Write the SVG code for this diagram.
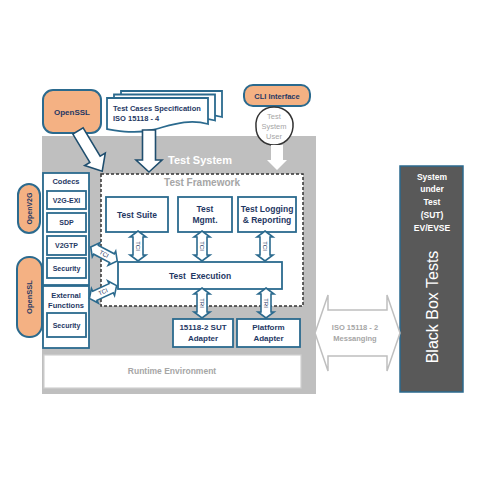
<svg xmlns="http://www.w3.org/2000/svg" width="480" height="480" viewBox="0 0 480 480">
<style>
.box{fill:#fff;stroke:#2B6A8E;stroke-width:1.8}
.org{fill:#F4B183;stroke:#2B6A8E;stroke-width:2}
.t{font-family:"Liberation Sans",Arial,sans-serif;font-weight:bold;fill:#1F3864;text-anchor:middle}
.ts{font-family:"Liberation Sans",Arial,sans-serif;font-weight:bold;fill:#1F3864;text-anchor:start}
.g{font-family:"Liberation Sans",Arial,sans-serif;font-weight:bold;fill:#A6A6A6;text-anchor:middle}
.gn{font-family:"Liberation Sans",Arial,sans-serif;font-weight:normal;fill:#A6A6A6;text-anchor:middle}
.w{font-family:"Liberation Sans",Arial,sans-serif;font-weight:bold;fill:#fff;text-anchor:middle}
.dbl{fill:#fff;stroke:#2B6A8E;stroke-width:1.6}
.lbl{font-family:"Liberation Sans",Arial,sans-serif;font-size:6px;fill:#1F3864;text-anchor:middle}
.bar{fill:#fff;stroke:#1F4E6E;stroke-width:1.6}
</style>
<defs>
<path id="dbl" d="M-15,0 L-9,-8 L-9,-5 L9,-5 L9,-8 L15,0 L9,8 L9,5 L-9,5 L-9,8 Z"/>
<path id="doc" d="M0,0 H101 V26 C80,20 62,28 45,32 C28,36 12,33 0,31 Z"/>
</defs>
<rect width="480" height="480" fill="#fff"/>

<g id="test-system">
<rect x="42" y="136" width="274" height="258" fill="#BFBFBF"/>
<text class="w" x="200" y="164" font-size="11">Test System</text>
</g>

<g id="test-framework">
<rect x="101" y="174" width="202" height="132" fill="#fff" stroke="#333" stroke-width="1.5" stroke-dasharray="3,2"/>
<text class="g" x="202" y="186" font-size="10">Test Framework</text>
</g>

<g id="openssl-top">
<rect class="org" x="43" y="90" width="58" height="43" rx="10"/>
<text class="t" x="72" y="115" font-size="8">OpenSSL</text>
</g>

<g id="test-cases">
<use href="#doc" x="121" y="91" class="box"/>
<use href="#doc" x="114" y="94.5" class="box"/>
<use href="#doc" x="107" y="98" class="box"/>
<text class="ts" x="113" y="111" font-size="7.5">Test Cases Specification</text>
<text class="ts" x="113" y="121" font-size="7.5">ISO 15118 - 4</text>
</g>

<g id="cli-interface">
<rect class="org" x="244" y="85" width="66" height="21" rx="9"/>
<text class="t" x="277" y="98.5" font-size="7.5">CLI Interface</text>
</g>

<g id="test-system-user">
<path d="M274,107 C286,107 294,116 293,127 C292,138 284,145 274,145 C264,145 256,138 256,127 C255,116 262,107 274,107 Z" fill="#fff" stroke="#333" stroke-width="1.5"/>
<text class="gn" x="274" y="119" font-size="7.5">Test</text>
<text class="gn" x="274" y="129" font-size="7.5">System</text>
<text class="gn" x="274" y="139" font-size="7.5">User</text>
</g>

<g id="codecs">
<rect class="box" x="43" y="173" width="46" height="112"/>
<text class="t" x="66" y="184" font-size="7.5">Codecs</text>
<rect class="box" x="47" y="191" width="39" height="18"/>
<text class="t" x="66.5" y="203" font-size="7">V2G-EXI</text>
<rect class="box" x="47" y="213" width="39" height="19"/>
<text class="t" x="66.5" y="225" font-size="7">SDP</text>
<rect class="box" x="47" y="236" width="39" height="19"/>
<text class="t" x="66.5" y="248" font-size="7">V2GTP</text>
<rect class="box" x="47" y="258" width="39" height="20"/>
<text class="t" x="66.5" y="271" font-size="7">Security</text>
</g>

<g id="external-functions">
<rect class="box" x="43" y="286" width="46" height="62"/>
<text class="t" x="66" y="298" font-size="7.5">External</text>
<text class="t" x="66" y="308" font-size="7.5">Functions</text>
<rect class="box" x="47" y="313" width="39" height="24"/>
<text class="t" x="66.5" y="328" font-size="7">Security</text>
</g>

<g id="openv2g">
<rect class="org" x="18" y="184" width="22" height="49" rx="11"/>
<text class="t" transform="translate(31.5,208.5) rotate(-90)" font-size="7">OpenV2G</text>
</g>

<g id="openssl-left">
<rect class="org" x="17" y="257" width="25" height="80" rx="12"/>
<text class="t" transform="translate(32,297) rotate(-90)" font-size="7.5">OpenSSL</text>
</g>

<g id="test-suite">
<rect class="box" x="106" y="197" width="62" height="35"/>
<text class="t" x="137" y="218" font-size="8.5">Test Suite</text>
</g>
<g id="test-mgmt">
<rect class="box" x="178" y="197" width="54" height="35"/>
<text class="t" x="205" y="212" font-size="8.5">Test</text>
<text class="t" x="205" y="223" font-size="8.5">Mgmt.</text>
</g>
<g id="test-logging">
<rect class="box" x="238" y="197" width="58" height="35"/>
<text class="t" x="267" y="212" font-size="8.5">Test Logging</text>
<text class="t" x="267" y="223" font-size="8.5">&amp; Reporting</text>
</g>
<g id="test-execution">
<rect class="box" x="118" y="262" width="164" height="27"/>
<text class="t" x="200" y="279" font-size="8.5" xml:space="preserve">Test  Execution</text>
</g>
<g id="sut-adapter">
<rect class="box" x="173" y="319" width="60" height="28"/>
<text class="t" x="203" y="330" font-size="8">15118-2 SUT</text>
<text class="t" x="203" y="341" font-size="8">Adapter</text>
</g>
<g id="platform-adapter">
<rect class="box" x="237" y="319" width="63" height="28"/>
<text class="t" x="268.5" y="330" font-size="8">Platform</text>
<text class="t" x="268.5" y="341" font-size="8">Adapter</text>
</g>
<g id="runtime-environment">
<rect x="44" y="355" width="257" height="33" fill="#fff" stroke="#D0D0D0" stroke-width="1.2"/>
<text class="g" x="172" y="374" font-size="8.5">Runtime Environment</text>
</g>

<g id="sut">
<rect x="400" y="166" width="63" height="226" fill="#595959" stroke="#2B6A8E" stroke-width="1.5"/>
<text class="w" x="432" y="180" font-size="8.5">System</text>
<text class="w" x="432" y="192" font-size="8.5">under</text>
<text class="w" x="432" y="205" font-size="8.5">Test</text>
<text class="w" x="432" y="218" font-size="8.5">(SUT)</text>
<text class="w" x="432" y="231" font-size="8.5">EV/EVSE</text>
<text transform="translate(438,307) rotate(-90)" font-family="Liberation Sans,Arial,sans-serif" font-size="16" fill="#fff" text-anchor="middle">Black Box Tests</text>
</g>

<g id="connectors">
<path class="bar" transform="translate(78,131) rotate(59)" d="M0,-6 L33,-6 L33,-12 L47,0 L33,12 L33,6 L0,6 Z"/>
<path class="bar" d="M142.5,130 V160 H136 L149,172 L162,160 H155.5 V130 Z"/>
<path fill="#fff" d="M271,145 V160 H267 L277,170 L287,160 H283 V145 Z"/>

<g transform="translate(138,246) rotate(90)"><use href="#dbl" class="dbl"/><text class="lbl" y="2">TCI</text></g>
<g transform="translate(202,246) rotate(90)"><use href="#dbl" class="dbl"/><text class="lbl" y="2">TCI</text></g>
<g transform="translate(265,246) rotate(90)"><use href="#dbl" class="dbl"/><text class="lbl" y="2">TCI</text></g>
<g transform="translate(202,303) rotate(90)"><use href="#dbl" class="dbl"/><text class="lbl" y="2">TRI</text></g>
<g transform="translate(266,303) rotate(90)"><use href="#dbl" class="dbl"/><text class="lbl" y="2">TRI</text></g>
<g transform="translate(104,254) rotate(28)"><use href="#dbl" class="dbl"/><text class="lbl" y="2">TCI</text></g>
<g transform="translate(103,292) rotate(-25)"><use href="#dbl" class="dbl"/><text class="lbl" y="2">TCI</text></g>

<g id="iso-messaging">
<path d="M315,333 L328,295 V310 H387 V295 L400,333 L387,371 V356 H328 V371 Z" fill="#fff" stroke="#BFBFBF" stroke-width="1.5"/>
<text class="g" x="355" y="330" font-size="7.5">ISO 15118 - 2</text>
<text class="g" x="355" y="341" font-size="7.5">Messanging</text>
</g>
</g>
</svg>
